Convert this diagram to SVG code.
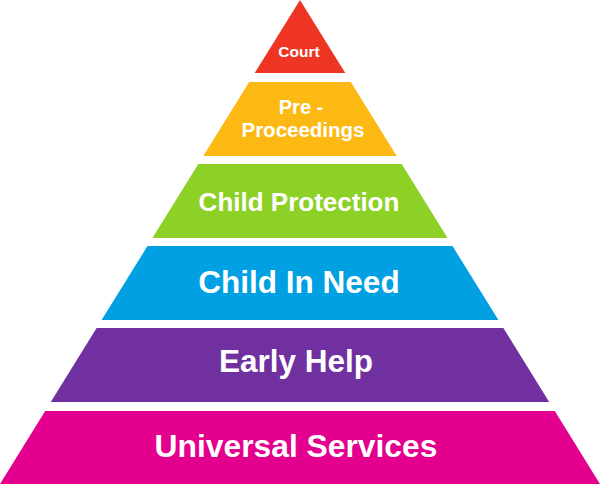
<svg xmlns="http://www.w3.org/2000/svg" width="600" height="484" viewBox="0 0 600 484">
<style>
text{font-family:"Liberation Sans",Arial,sans-serif;font-weight:bold;fill:#fff;text-anchor:middle}
</style>
<rect width="600" height="484" fill="#fff"/>
<g id="court"><polygon points="300,0 254.7,73 345.3,73" fill="#EE3524"/><text x="299" y="57" font-size="15.5">Court</text></g>
<g id="pre-proceedings"><polygon points="249.2,82 350.8,82 396.7,156 203.3,156" fill="#FDB913"/><text x="301" y="114" font-size="20">Pre -</text><text x="303" y="137" font-size="20.5">Proceedings</text></g>
<g id="child-protection"><polygon points="198.3,164 401.7,164 447.6,238 152.4,238" fill="#8DD126"/><text x="299" y="210.5" font-size="26">Child Protection</text></g>
<g id="child-in-need"><polygon points="147.5,246 452.5,246 498.4,320 101.6,320" fill="#00A0E3"/><text x="299" y="293" font-size="31.5">Child In Need</text></g>
<g id="early-help"><polygon points="96.6,328 503.4,328 549.2,402 50.8,402" fill="#7030A0"/><text x="296" y="372" font-size="31.5">Early Help</text></g>
<g id="universal-services"><polygon points="45.2,411 554.8,411 600,484 0,484" fill="#E3008E"/><text x="296" y="457" font-size="31.8">Universal Services</text></g>
<g id="connectors"/>
</svg>
